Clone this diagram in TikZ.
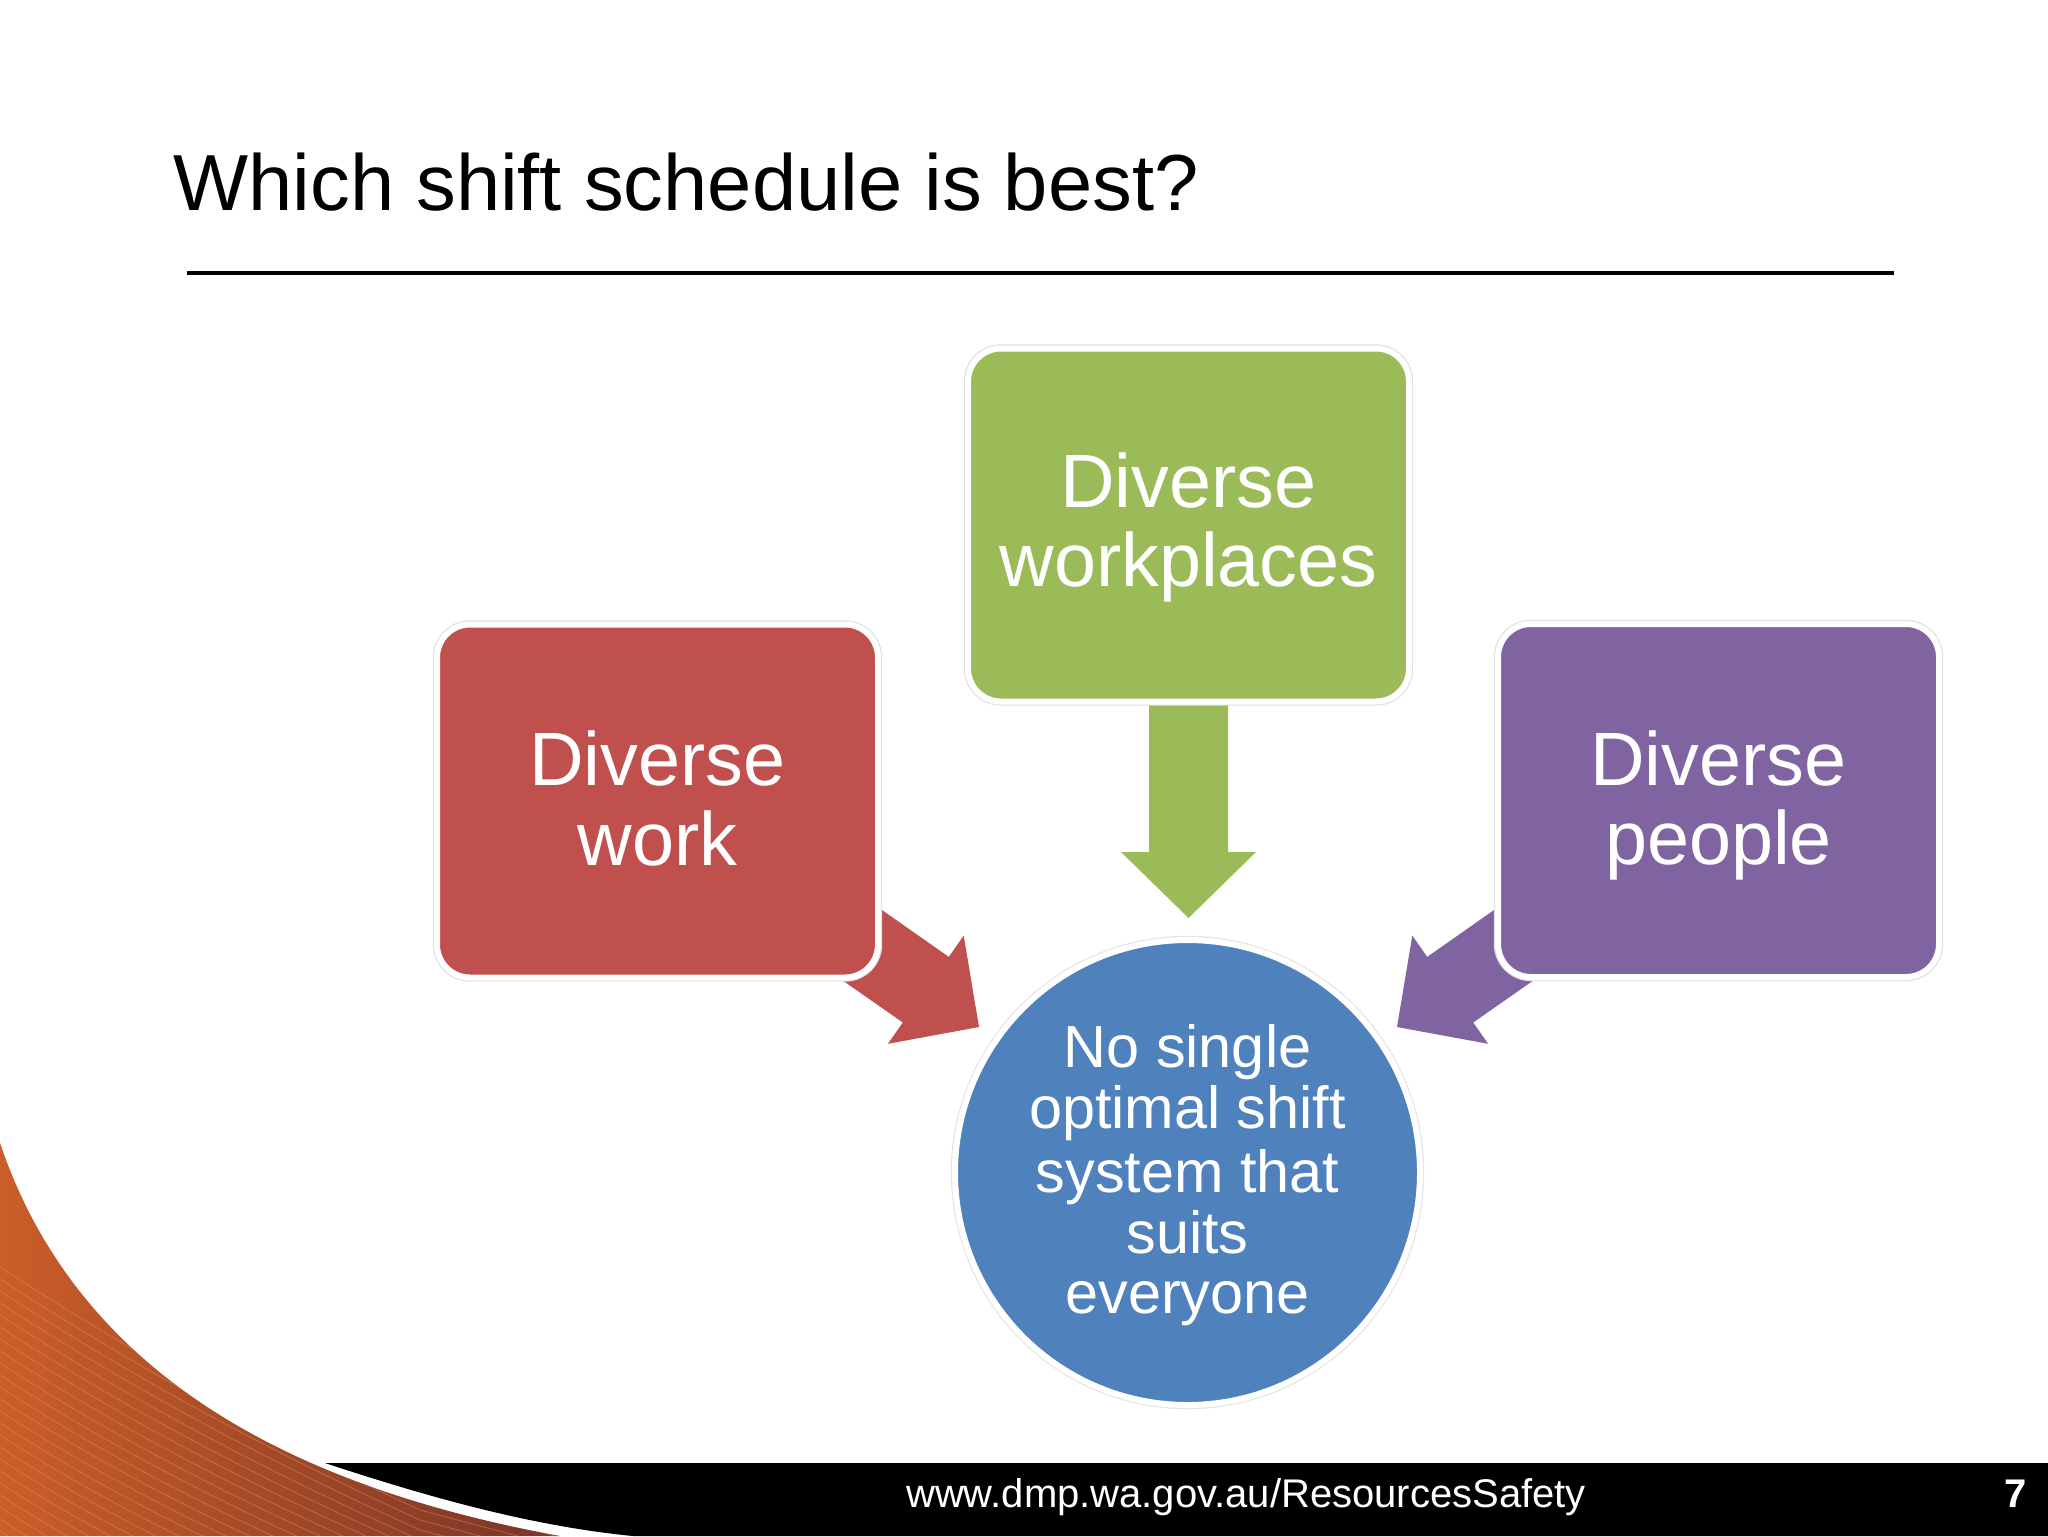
\documentclass[tikz,border=0pt]{standalone}
\usepackage{fontspec}
\setmainfont{Liberation Sans}
\definecolor{redc}{HTML}{C0504D}
\definecolor{greenc}{HTML}{9BBB59}
\definecolor{purplec}{HTML}{8064A2}
\definecolor{bluec}{HTML}{4F81BD}
\definecolor{orA}{RGB}{202,94,40}
\definecolor{orB}{RGB}{122,52,40}
\definecolor{orL}{RGB}{238,150,100}
\begin{document}
\begin{tikzpicture}[x=0.5pt,y=-0.5pt,
  box/.style={rectangle, rounded corners=16.5pt, minimum width=220.5pt, minimum height=176.5pt,
    inner sep=0pt, draw=white, line width=3pt, preaction={draw=black!12, line width=4.2pt}},
  boxtext/.style={text=white, font=\fontsize{37.8}{40}\selectfont, inner sep=0pt, anchor=base},
  circtext/.style={text=white, font=\fontsize{29.7}{31}\selectfont, inner sep=0pt, anchor=base},
  barbox/.style={text=white, font=\fontsize{20}{24}\selectfont, inner sep=0pt}]
\useasboundingbox (0,0) rectangle (2048,1536);
\fill[white] (0,0) rectangle (2048,1536);

% title and rule
\node[anchor=base west, inner sep=0pt, font=\fontsize{39.75}{44}\selectfont] (title) at (173,210) {Which shift schedule is best?};
\coordinate (ruleL) at (187,273);
\coordinate (ruleR) at (1894,273);
\draw[line width=1.6pt] (ruleL) -- (ruleR);

% decorative swoosh
\shade[left color=orA, right color=orB] (0,1143) .. controls (77,1371) and (286,1486) .. (560,1536) -- (0,1536) -- cycle;
\begin{scope}
  \clip (0,1143) .. controls (77,1371) and (286,1486) .. (560,1536) -- (0,1536) -- cycle;
  \foreach \i in {0,...,32}{
    \draw[orL, opacity=0.4, line width=0.45pt] (0,{1267+12*\i}) .. controls (120,{1345+12*\i}) and (250,{1420+11*\i}) .. (420,{1500+10*\i}) -- ++(320,85);
  }
\end{scope}
\fill[black] (325,1463) -- (2048,1463) -- (2048,1536) -- (633,1536) .. controls (530,1526) and (425,1496) .. (325,1463) -- cycle;
\node[barbox, anchor=base] (url) at (1246,1507) {www.dmp.wa.gov.au/ResourcesSafety};
\node[barbox, anchor=base east, font=\fontsize{20}{24}\selectfont\bfseries] (pnum) at (2027,1507) {7};

% block arrows
\fill[redc] (785,842) -- (948.8,956.9) -- (963.7,935.6) -- (979,1027) -- (887.9,1043.8) -- (902.8,1022.5) -- (739,908) -- cycle;
\fill[purplec] (1591,842) -- (1427.2,956.9) -- (1412.3,935.6) -- (1397,1027) -- (1488.1,1043.8) -- (1473.2,1022.5) -- (1637,908) -- cycle;
\fill[greenc] (1149,690) -- (1149,852) -- (1121,852) -- (1188.5,918) -- (1256,852) -- (1228,852) -- (1228,690) -- cycle;

% boxes
\node[box, fill=redc] (work) at (657.5,801) {};
\node[box, fill=greenc] (places) at (1188.5,525) {};
\node[box, fill=purplec] (people) at (1718.5,800.5) {};
\node[circle, fill=bluec, draw=white, line width=3pt, preaction={draw=black!10, line width=4.2pt},
      minimum size=232.5pt, inner sep=0pt] (center) at (1187.5,1172.5) {};

% box texts
\node[boxtext] (work1) at (657.5,785) {Diverse};
\node[boxtext] (work2) at (657.5,865) {work};
\node[boxtext] (places1) at (1188.5,507) {Diverse};
\node[boxtext] (places2) at (1188.5,586) {workplaces};
\node[boxtext] (people1) at (1718.5,785) {Diverse};
\node[boxtext] (people2) at (1718.5,864) {people};

% circle text
\node[circtext] (c1) at (1187.5,1067) {No single};
\node[circtext] (c2) at (1187.5,1128) {optimal shift};
\node[circtext] (c3) at (1187.5,1192) {system that};
\node[circtext] (c4) at (1187.5,1253) {suits};
\node[circtext] (c5) at (1187.5,1313) {everyone};
\end{tikzpicture}
\end{document}
